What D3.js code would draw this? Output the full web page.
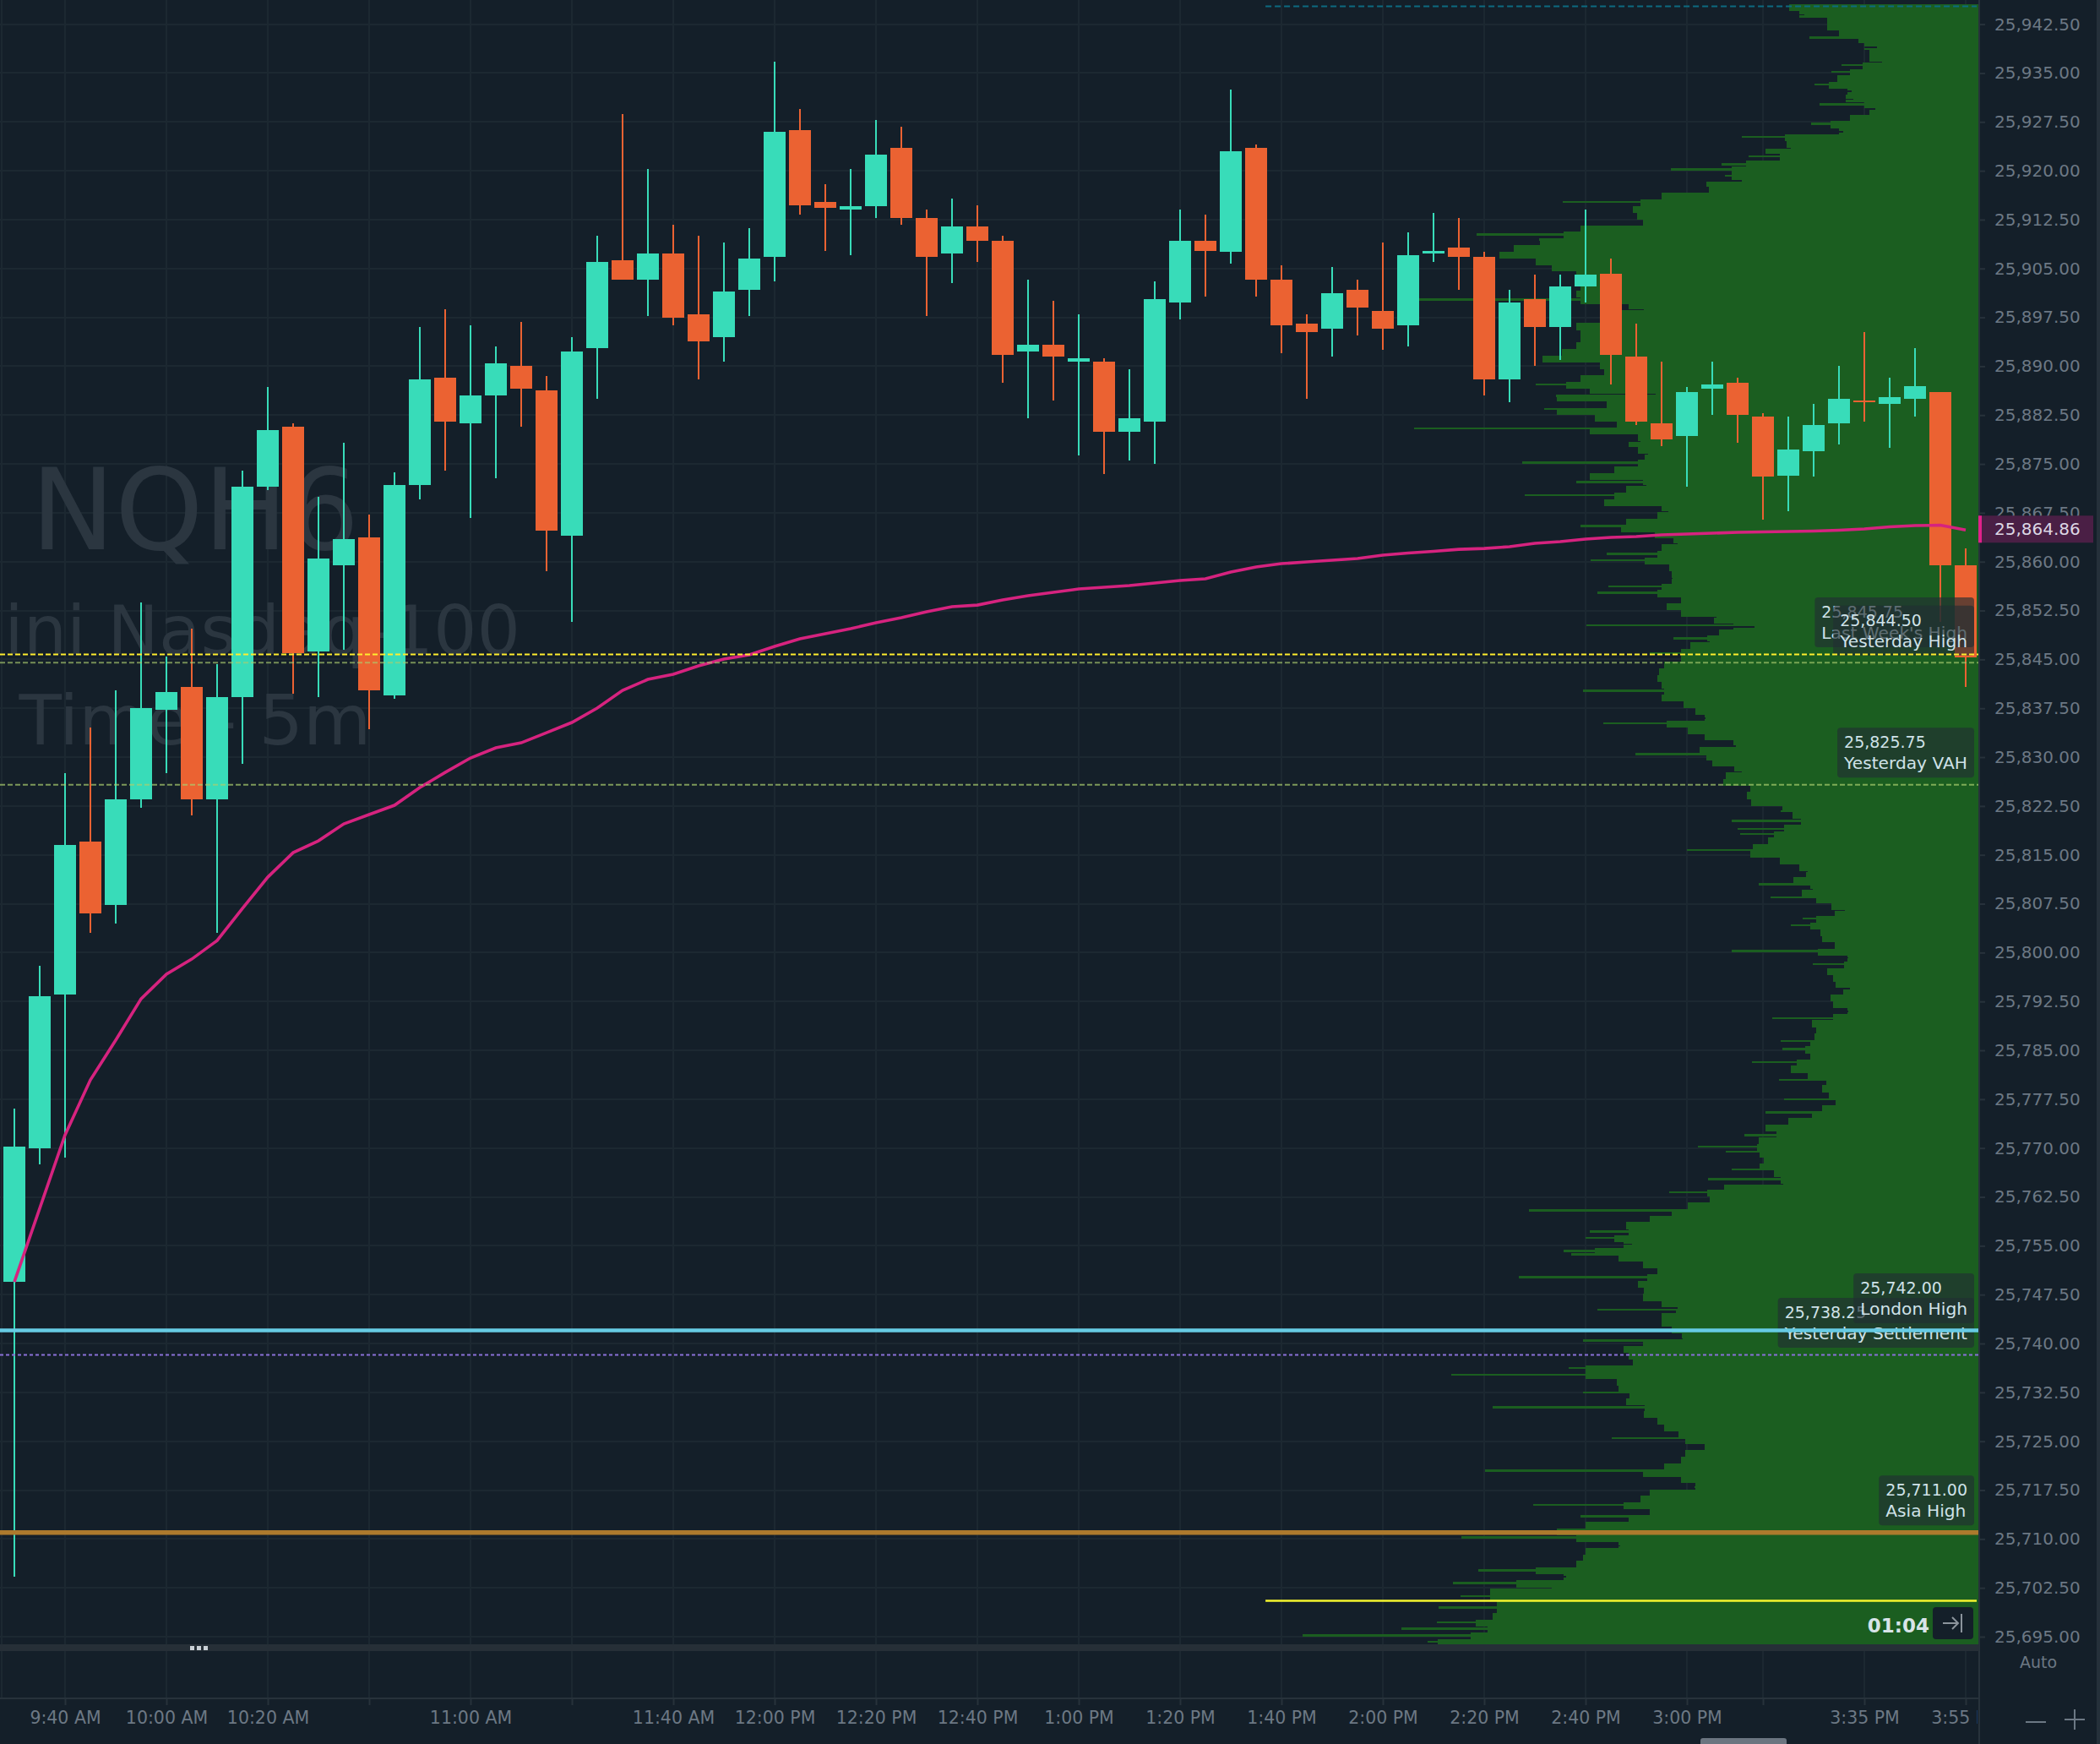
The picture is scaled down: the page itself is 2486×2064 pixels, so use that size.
<!DOCTYPE html>
<html>
<head>
<meta charset="utf-8">
<script src="https://cdn.jsdelivr.net/npm/d3@7"></script>
<style>
  html, body { margin: 0; padding: 0; background: #141f29; overflow: hidden; }
  svg { display: block; }
</style>
</head>
<body>
<svg id="chart"></svg>
<script>
// 5m bars, 9:30 to 3:55
const opens = [25749.5,25770,25793.5,25817,25807.25,25823.5,25837.25,25840.75,25823.5,25839.25,25871.5,25880.75,25846.25,25859.5,25863.75,25839.5,25871.75,25888.25,25881.25,25885.5,25890,25886.25,25864,25892.75,25906.25,25903.25,25907.25,25898,25894.5,25901.75,25906.75,25926.25,25915.25,25914,25914.5,25923.5,25912.75,25907.25,25911.5,25909.25,25892.25,25893.25,25890.75,25890.75,25880,25881.5,25899.75,25909.25,25907.5,25923.5,25903.25,25896.5,25895.75,25901.75,25898.5,25896.25,25907.25,25908.25,25906.75,25888,25900.25,25896,25902.25,25904.25,25891.5,25881.25,25879.25,25886.5,25887.5,25882.25,25873.25,25877,25881.25,25884.75,25884.25,25885,25886,25859.5];
const highs = [25776,25798,25827.5,25834.5,25840.25,25853.75,25845.5,25849.75,25844.25,25874,25886.75,25881.25,25870,25878.25,25867.25,25873.75,25896,25898.75,25896.25,25893,25896.75,25888.5,25894.5,25910,25928.75,25920.25,25911.75,25910,25909,25911.25,25936.75,25929.5,25918,25920.25,25927.75,25926.75,25914,25915.75,25914.75,25910,25903.25,25900,25898,25891.25,25889.5,25903,25914,25913.25,25932.5,25924,25905.5,25898,25905.25,25903.25,25909,25910.5,25913.5,25912.75,25907.5,25901.75,25904,25904,25914,25906.5,25896.5,25890.75,25886.75,25890.75,25888.25,25882.75,25882.25,25884.25,25890,25895.25,25888.25,25892.75,25886,25862];
const lows = [25704.25,25767.5,25768.5,25803,25804.5,25822.25,25827.5,25821,25803,25829,25871,25839.75,25839.25,25846.5,25834.25,25839,25869.5,25874,25866.75,25872.75,25880.75,25858.5,25850.75,25885,25903.25,25897.75,25896.25,25888,25890.75,25897.75,25903,25913.25,25907.75,25907,25912.75,25911.75,25897.75,25902.75,25906,25887.5,25882,25884.75,25876.25,25873.5,25875.5,25875,25897.25,25900.75,25905.75,25900.75,25892,25885,25891.5,25894.75,25892.5,25893,25906,25901.75,25885.5,25884.5,25890,25891,25899.75,25887.25,25881,25877.75,25871.5,25882.5,25878.25,25866.5,25867.75,25873,25878,25881.5,25877.5,25882.25,25850.75,25840.75];
const closes = [25770.25,25793.25,25816.5,25806,25823.5,25837.5,25840,25823.5,25839.25,25871.5,25880.25,25846,25860.5,25863.5,25840.25,25871.75,25888,25881.5,25885.5,25890.5,25886.5,25864.75,25892.25,25906,25903.25,25907.25,25897.5,25893.75,25901.5,25906.5,25926,25914.75,25914.25,25914.5,25922.5,25912.75,25906.75,25911.5,25909.25,25891.75,25893.25,25891.5,25891.25,25880,25882,25900.25,25909.25,25907.75,25923,25903.25,25896.25,25895.25,25901.25,25899,25895.75,25907,25907.75,25906.75,25888,25899.75,25896,25902.25,25904,25891.75,25881.5,25878.75,25886,25887.25,25882.5,25873,25877.25,25881,25885,25884.5,25885.25,25887,25859.5,25845.25];

const vwap = [25749.46,25760.74,25772.02,25780.45,25786.55,25792.90,25796.67,25799.00,25801.85,25806.78,25811.58,25815.34,25817.16,25819.75,25821.18,25822.61,25825.33,25827.66,25829.87,25831.43,25832.20,25833.76,25835.32,25837.52,25840.25,25841.93,25842.71,25844.01,25845.04,25845.69,25846.99,25848.16,25848.93,25849.71,25850.62,25851.40,25852.31,25853.09,25853.34,25854.12,25854.77,25855.29,25855.81,25856.07,25856.33,25856.72,25857.11,25857.37,25858.40,25859.18,25859.70,25859.96,25860.22,25860.48,25861.00,25861.32,25861.58,25861.90,25862.03,25862.29,25862.81,25863.07,25863.46,25863.72,25863.85,25864.11,25864.24,25864.37,25864.50,25864.56,25864.63,25864.69,25864.82,25865.02,25865.34,25865.54,25865.60,25864.86];
const vwapLabel = "25,864.86";

// volume profile: one value per whole point, from 25945 down to 25694
const profileVolume = [224,212,179,179,165,142,135,129,129,137,152,167,177,155,157,135,129,152,175,165,229,227,252,235,275,292,292,322,319,375,400,409,404,397,471,491,519,550,567,524,505,476,476,471,476,471,414,426,448,476,471,471,476,493,516,448,443,471,488,460,499,440,499,454,428,460,403,414,403,395,403,431,460,397,417,431,443,375,380,417,423,383,361,375,380,395,366,363,363,375,380,352,369,352,313,290,307,321,341,352,352,372,378,380,375,372,375,349,335,324,369,344,324,290,330,322,315,289,299,302,270,274,269,232,220,210,230,242,249,267,270,235,212,204,219,199,209,192,174,170,192,199,187,185,170,190,155,159,179,172,169,160,175,172,155,172,197,192,194,199,205,199,215,222,202,180,185,177,169,185,197,225,252,239,260,262,259,254,259,242,234,301,321,318,344,363,389,417,414,431,420,454,426,397,380,392,403,396,397,375,358,375,375,363,351,397,420,414,409,465,465,428,426,413,417,395,396,380,372,355,347,324,347,352,372,397,352,335,389,400,420,389,414,465,499,476,426,465,468,476,524,491,547,578,578,570,570,575,595,581,601,640];
// single price rows that stick out of (or cut into) the coarse rows above
const spikePrices = [25944,25940.5,25939,25936.75,25936.25,25935.25,25933.25,25932.25,25931,25930.25,25929.5,25927.25,25926,25925.25,25923.5,25922.25,25921,25920.25,25919.25,25918.5,25915.25,25910.25,25909.5,25908.5,25900.25,25898.75,25887.25,25885.5,25885.75,25883.5,25880.5,25878.5,25876.5,25875.25,25872.25,25871.75,25870.25,25867.75,25865.5,25862.75,25861.25,25860.25,25857.5,25856.25,25855.25,25854,25851.5,25850.25,25850,25848.25,25847.75,25846,25840.25,25839.75,25836,25835.25,25831.75,25830.5,25827.75,25825,25821.75,25820.25,25819.75,25819,25818.25,25815.75,25812.5,25810.5,25809.75,25808.5,25806.5,25805.25,25804.25,25800.25,25799.25,25798.25,25794.5,25791,25790,25786.5,25785.25,25783.25,25780.5,25777.5,25777,25775.5,25772,25770.25,25769.5,25766.75,25765.25,25764.5,25763.25,25760.5,25757.25,25756.25,25755.25,25754.25,25753.75,25750.25,25745.5,25745.25,25740.75,25740.5,25736.25,25735.25,25732.5,25730.25,25725.5,25724,25720.5,25718,25715.25,25713.5,25710.25,25709,25705.25,25704.25,25703.25,25702.5,25701.25,25699.5,25697.25,25696.25,25695.25,25694.25];
const spikeVolumes = [206,200,120,114,162,174,194,150,148,188,122,198,160,280,222,272,304,364,300,280,492,594,520,550,663,396,524,500,382,514,668,400,391,540,476,393,537,367,471,356,440,459,362,438,451,352,310,464,265,361,318,389,468,372,323,444,287,406,280,270,234,292,210,285,282,345,202,260,196,246,158,208,222,292,154,196,152,154,244,234,232,268,236,230,169,252,277,332,299,292,320,231,366,532,460,465,410,491,482,544,356,451,350,468,485,624,468,575,434,324,584,336,527,471,612,424,592,488,622,505,613,639,641,683,800,652];

const levelPrices = [25845.75, 25844.5, 25825.75, 25742, 25738.25, 25711];
const levelNames = ["Last Week's High", "Yesterday High", "Yesterday VAH", "London High", "Yesterday Settlement", "Asia High"];

const sessionHigh = 25945.25;
const sessionLine = 25700.5;

const timeBars = [2,6,10,14,18,22,26,30,34,38,42,46,50,54,58,62,66,69,73,77];
const timeLabels = ["9:40 AM","10:00 AM","10:20 AM","","11:00 AM","","11:40 AM","12:00 PM","12:20 PM","12:40 PM","1:00 PM","1:20 PM","1:40 PM","2:00 PM","2:20 PM","2:40 PM","3:00 PM","","3:35 PM","3:55 PM"];
const priceTicks = d3.range(25695, 25943, 7.5);

// layout
const W = 2486, H = 2064;
const plotRight = 2342, plotBottom = 1946, axisY = 2010;

const bg = "#141f29", gridCol = "#1c2831", axisCol = "#27323b", textCol = "#6c7884";
const upCol = "#38dcb9", downCol = "#eb6232", profileCol = "#1b5e20";

const svg = d3.select("#chart").attr("width", W).attr("height", H);
svg.append("rect").attr("width", W).attr("height", H).attr("fill", bg);

const x = d3.scaleLinear().domain([0, 77]).range([17, 2327]);
const y = d3.scaleLinear().domain([25695, 25942.5]).range([1937, 28.6]);
const volX = d3.scaleLinear().domain([0, 800]).range([plotRight, plotRight - 800]);

const defs = svg.append("defs");
defs.append("clipPath").attr("id", "plotClip").append("rect").attr("width", plotRight).attr("height", plotBottom);
defs.append("clipPath").attr("id", "timeClip").append("rect").attr("width", plotRight - 1).attr("height", H);

// grid
const grid = svg.append("g").attr("shape-rendering", "crispEdges");
grid.selectAll(".h").data(priceTicks).enter().append("line")
  .attr("x1", 0).attr("x2", plotRight)
  .attr("y1", d => y(d)).attr("y2", d => y(d))
  .attr("stroke", gridCol).attr("stroke-width", 2);
grid.selectAll(".v").data([-0.5].concat(timeBars)).enter().append("line")
  .attr("x1", d => x(d)).attr("x2", d => x(d))
  .attr("y1", 0).attr("y2", axisY)
  .attr("stroke", gridCol).attr("stroke-width", 2);

// watermark
const wm = svg.append("g").attr("fill", "#2b3640").attr("font-family", "'DejaVu Sans'").attr("text-anchor", "middle");
wm.append("text").attr("x", 231).attr("y", 650).attr("font-size", 133).text("NQH6");
wm.append("text").attr("x", 231).attr("y", 774).attr("font-size", 81).text("E-mini Nasdaq-100");
wm.append("text").attr("x", 231).attr("y", 881).attr("font-size", 82.5).text("Time - 5m");

// volume profile, one rect per quarter point
const spikeByPrice = new Map(spikePrices.map((p, i) => [p, spikeVolumes[i]]));
const profileRows = d3.range(25945.5, 25693.5, -0.25).map(p => {
  const coarse = Math.min(profileVolume.length - 1, Math.max(0, Math.round(25945 - p)));
  return { price: p, vol: spikeByPrice.has(p) ? spikeByPrice.get(p) : profileVolume[coarse] };
});
svg.append("g").attr("shape-rendering", "crispEdges").selectAll("rect")
  .data(profileRows).enter().append("rect")
  .attr("x", d => volX(d.vol))
  .attr("y", d => y(d.price + 0.125))
  .attr("width", d => plotRight - volX(d.vol))
  .attr("height", y(0) - y(0.25) + 0.6)
  .attr("fill", profileCol);

// candles
const candles = svg.append("g").attr("shape-rendering", "crispEdges").attr("clip-path", "url(#plotClip)");
opens.forEach((o, i) => {
  const col = closes[i] >= o ? upCol : downCol;
  candles.append("line")
    .attr("x1", x(i)).attr("x2", x(i))
    .attr("y1", y(highs[i])).attr("y2", y(lows[i]))
    .attr("stroke", col).attr("stroke-width", 2);
  candles.append("rect")
    .attr("x", x(i) - 13).attr("width", 26)
    .attr("y", y(Math.max(o, closes[i])))
    .attr("height", Math.max(2, Math.abs(y(o) - y(closes[i]))))
    .attr("fill", col);
});

// vwap
const vwapLine = d3.line().x((d, i) => x(i)).y(d => y(d));
svg.append("path").datum(vwap).attr("d", vwapLine)
  .attr("fill", "none").attr("stroke", "#d6237f").attr("stroke-width", 3.6);

// level tags, settlement goes under london
[0, 1, 2, 4, 3, 5].forEach(i => {
  const p = levelPrices[i];
  const g = svg.append("g").attr("font-family", "'DejaVu Sans'").attr("fill", "#cfe2e8");
  const bottom = y(p) - 8.5;
  const box = g.append("rect").attr("rx", 4).attr("fill", "rgba(34,46,50,0.65)");
  const name = g.append("text").attr("y", bottom - 10).attr("font-size", 20.2).text(levelNames[i]);
  const val = g.append("text").attr("y", bottom - 35).attr("font-size", 19).text(d3.format(",.2f")(p));
  const w = Math.max(name.node().getComputedTextLength(), val.node().getComputedTextLength());
  const left = 2337 - 8 - w;
  name.attr("x", left);
  val.attr("x", left);
  box.attr("x", left - 8).attr("y", bottom - 59).attr("width", w + 16).attr("height", 59);
});

// level lines
const levelStroke = ["#ffee2e", "rgba(170,205,110,0.65)", "rgba(170,205,110,0.7)", "#66cbe4", "#8a70d8", "#ad7a2d"];
const levelWidth = [2, 2, 2, 4.5, 2, 5.5];
const levelDash = ["6 3", "6 3", "6 3", null, "4 3", null];
svg.append("g").selectAll("line").data(levelPrices).enter().append("line")
  .attr("x1", 0).attr("x2", plotRight)
  .attr("y1", d => y(d)).attr("y2", d => y(d))
  .attr("stroke", (d, i) => levelStroke[i])
  .attr("stroke-width", (d, i) => levelWidth[i])
  .attr("stroke-dasharray", (d, i) => levelDash[i]);

// session lines start part way across
const sessionFromBar = 49.37;
svg.append("line").attr("x1", x(sessionFromBar)).attr("x2", 2340)
  .attr("y1", y(sessionHigh)).attr("y2", y(sessionHigh))
  .attr("stroke", "#0d6a80").attr("stroke-width", 2).attr("stroke-dasharray", "7 4");
svg.append("line").attr("x1", x(sessionFromBar)).attr("x2", 2340)
  .attr("y1", y(sessionLine)).attr("y2", y(sessionLine))
  .attr("stroke", "#f5f52e").attr("stroke-width", 2.5);

// price axis
const yAxis = d3.axisRight(y).tickValues(priceTicks).tickFormat(d3.format(",.2f")).tickSize(7).tickPadding(11);
const yG = svg.append("g").attr("transform", `translate(${plotRight + 1},0)`).call(yAxis);
yG.select(".domain").remove();
yG.selectAll("line").attr("stroke", axisCol).attr("stroke-width", 2);
yG.selectAll("text").attr("fill", textCol).attr("font-family", "'DejaVu Sans'").attr("font-size", 20);
svg.append("rect").attr("x", plotRight).attr("y", 0).attr("width", 2).attr("height", H).attr("fill", axisCol);
svg.append("rect").attr("x", 2482).attr("y", 0).attr("width", 4).attr("height", H).attr("fill", "#25303a");

// vwap tag
svg.append("rect").attr("x", plotRight).attr("y", y(25864.86) - 17).attr("width", 136).attr("height", 32).attr("fill", "#4a1f45");
svg.append("rect").attr("x", plotRight).attr("y", y(25864.86) - 17).attr("width", 4).attr("height", 32).attr("fill", "#e0218a");
svg.append("text").attr("x", 2361).attr("y", y(25864.86) + 6)
  .attr("fill", "#dcd6e4").attr("font-family", "'DejaVu Sans'").attr("font-size", 20).text(vwapLabel);

// separator bar under the plot
svg.append("rect").attr("x", 0).attr("y", plotBottom).attr("width", plotRight + 1).attr("height", 8).attr("fill", "#262f37");
[225, 233, 241].forEach(d => {
  svg.append("rect").attr("x", d).attr("y", 1948).attr("width", 5).attr("height", 5).attr("fill", "#c9d0d6");
});

// time axis
const xAxis = d3.axisBottom(x).tickValues(timeBars).tickFormat((d, i) => timeLabels[i]).tickSize(8).tickPadding(7);
const xG = svg.append("g").attr("transform", `translate(0,${axisY})`).attr("clip-path", "url(#timeClip)").call(xAxis);
xG.select(".domain").remove();
xG.selectAll("line").attr("stroke", axisCol).attr("stroke-width", 2);
xG.selectAll("text").attr("fill", textCol).attr("font-family", "'DejaVu Sans'").attr("font-size", 20.5);
svg.append("line").attr("x1", 0).attr("x2", plotRight).attr("y1", axisY).attr("y2", axisY).attr("stroke", axisCol).attr("stroke-width", 2);

// countdown and jump button
svg.append("text").attr("x", 2284).attr("y", 1932).attr("text-anchor", "end")
  .attr("fill", "#d8e4e8").attr("font-family", "'DejaVu Sans'").attr("font-weight", "bold").attr("font-size", 23).text("01:04");
svg.append("rect").attr("x", 2288).attr("y", 1902).attr("width", 48).attr("height", 38).attr("rx", 4).attr("fill", bg);
svg.append("path").attr("d", "M2300 1921H2318M2311 1914L2318 1921L2311 1928M2322 1910V1932")
  .attr("fill", "none").attr("stroke", "#8b949c").attr("stroke-width", 2);

// corner controls
svg.append("text").attr("x", 2413).attr("y", 1974).attr("text-anchor", "middle")
  .attr("fill", textCol).attr("font-family", "'DejaVu Sans'").attr("font-size", 19).text("Auto");
svg.append("path").attr("d", "M2398 2038H2422M2444 2035H2468M2456 2023V2047")
  .attr("fill", "none").attr("stroke", textCol).attr("stroke-width", 2);

// scrollbar thumb
svg.append("rect").attr("x", 2013).attr("y", 2057).attr("width", 102).attr("height", 10).attr("rx", 3).attr("fill", "#6b7580");
</script>
</body>
</html>
